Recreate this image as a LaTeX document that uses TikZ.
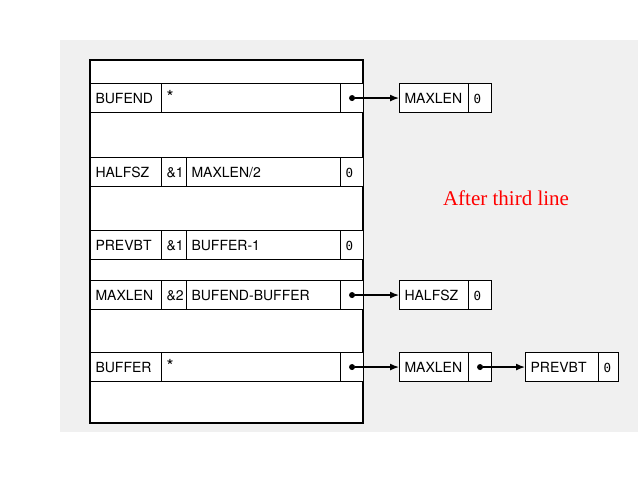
\documentclass[tikz,border=0pt]{standalone}
\usepackage{fontspec}
\newfontfamily\hv{TeX Gyre Heros}
\newfontfamily\zerofont{DejaVu Sans Mono}
\setmainfont{Liberation Serif}
\usetikzlibrary{arrows.meta}
\begin{document}
\begin{tikzpicture}[x=1pt,y=-1pt,
  cell/.style={draw, fill=white, line width=1.1pt, anchor=north west, inner xsep=5pt, inner ysep=0pt,
    minimum height=29pt, text height=10pt, text depth=0pt, align=left,
    execute at begin node={\hv\fontsize{14}{16}\selectfont}},
  zc/.style={cell, text width=13pt, execute at begin node={\zerofont\fontsize{12.5}{14}\selectfont}},
  dot/.style={circle, fill, inner sep=0pt, minimum size=6pt},
  arr/.style={-{Latex[length=9pt,width=7pt]}, line width=1.3pt}]
\useasboundingbox (0,0) rectangle (638,478);
\fill[black!6] (60,40) rectangle (638,432);
\draw[line width=1.1pt, fill=white] (90,60) rectangle (363,423);
% BUFEND row
\node[cell, text width=61pt] (n1) at (90,83) {BUFEND};
\node[cell, text width=169pt] (m1) at (161,83) {\fontsize{18}{18}\selectfont*};
\node[cell, text width=13pt] (p1) at (340,83) {};
% HALFSZ row
\node[cell, text width=61pt] (n2) at (90,157) {HALFSZ};
\node[cell, text width=15pt] (a2) at (161,157) {\&1};
\node[cell, text width=144pt] (m2) at (186,157) {MAXLEN/2};
\node[zc] (p2) at (340,157) {0};
% PREVBT row
\node[cell, text width=61pt] (n3) at (90,230) {PREVBT};
\node[cell, text width=15pt] (a3) at (161,230) {\&1};
\node[cell, text width=144pt] (m3) at (186,230) {BUFFER-1};
\node[zc] (p3) at (340,230) {0};
% MAXLEN row
\node[cell, text width=61pt] (n4) at (90,280) {MAXLEN};
\node[cell, text width=15pt] (a4) at (161,280) {\&2};
\node[cell, text width=144pt] (m4) at (186,280) {BUFEND-BUFFER};
\node[cell, text width=13pt] (p4) at (340,280) {};
% BUFFER row
\node[cell, text width=61pt] (n5) at (90,352) {BUFFER};
\node[cell, text width=169pt] (m5) at (161,352) {\fontsize{18}{18}\selectfont*};
\node[cell, text width=13pt] (p5) at (340,352) {};
% right boxes
\node[cell, text width=59pt] (r1) at (399,83) {MAXLEN};
\node[zc, text width=13pt] (r1z) at (468,83) {0};
\node[cell, text width=59pt] (r2) at (399,280) {HALFSZ};
\node[zc, text width=13pt] (r2z) at (468,280) {0};
\node[cell, text width=59pt] (r3) at (399,352) {MAXLEN};
\node[cell, text width=13pt] (r3p) at (468,352) {};
\node[cell, text width=63pt] (r4) at (525,352) {PREVBT};
\node[zc, text width=10pt] (r4z) at (598,352) {0};
% dots and arrows
\node[dot] (d1) at (p1.center) {};
\node[dot] (d4) at (p4.center) {};
\node[dot] (d5) at (p5.center) {};
\node[dot] (d6) at (r3p.center) {};
\draw[arr] (d1) -- (r1.west);
\draw[arr] (d4) -- (r2.west);
\draw[arr] (d5) -- (r3.west);
\draw[arr] (d6) -- (r4.west);
\node[text=red, font=\fontsize{21}{24}\selectfont] (t) at (506,198) {After third line};
\end{tikzpicture}
\end{document}
